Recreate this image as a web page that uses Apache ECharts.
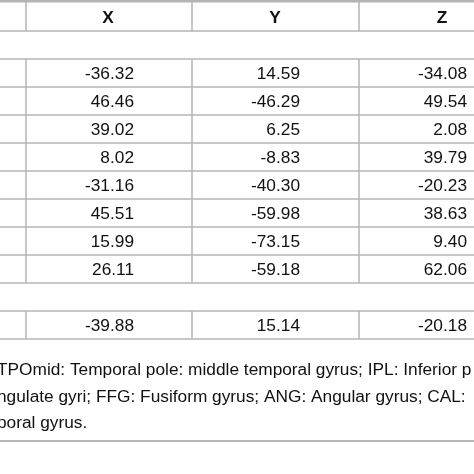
<!DOCTYPE html><html><head><meta charset="utf-8">
<script src="https://cdn.jsdelivr.net/npm/echarts@6/dist/echarts.min.js"></script>
<style>html,body{margin:0;padding:0;background:#fff}#c{width:474px;height:474px}</style></head><body><div id="c"></div>
<script>
const headers = ['X','Y','Z'];
const xVals = ['-36.32','46.46','39.02','8.02','-31.16','45.51','15.99','26.11',null,'-39.88'];
const yVals = ['14.59','-46.29','6.25','-8.83','-40.30','-59.98','-73.15','-59.18',null,'15.14'];
const zVals = ['-34.08','49.54','2.08','39.79','-20.23','38.63','9.40','62.06',null,'-20.18'];
const footnote = ['TPOmid: Temporal pole: middle temporal gyrus; IPL: Inferior p','ngulate gyri; FFG: Fusiform gyrus; ANG: Angular gyrus; CAL:','poral gyrus.'];

const font = '17.3px "Liberation Sans", Arial, sans-serif';
const lineC = '#b4b4b4';
const els = [];
const hLines = [31,59,87,115,143,171,199,227,255,283,311,339];
hLines.forEach(y => els.push({type:'line',shape:{x1:0,y1:y,x2:474,y2:y},style:{stroke:lineC,lineWidth:1.5}}));
els.push({type:'line',shape:{x1:0,y1:1,x2:474,y2:1},style:{stroke:lineC,lineWidth:3}});
els.push({type:'line',shape:{x1:0,y1:441,x2:474,y2:441},style:{stroke:lineC,lineWidth:2}});
const vSegs = [[0,31],[59,283],[311,339]];
[26,192,359].forEach(x => vSegs.forEach(s => els.push({type:'line',shape:{x1:x,y1:s[0],x2:x,y2:s[1]},style:{stroke:lineC,lineWidth:1.5}})));
const hc = [108,275,442];
headers.forEach((h,i)=>els.push({type:'text',x:hc[i],y:18,style:{text:h,font:'bold '+font,fill:'#111',align:'center',verticalAlign:'middle'}}));
const rowY = [73,101,129,157,185,213,241,269,297,325];
const rights = [134,300,467];
[xVals,yVals,zVals].forEach((col,ci)=>col.forEach((v,ri)=>{ if(v!==null) els.push({type:'text',x:rights[ci],y:rowY[ri]+1,style:{text:v,font:font,fill:'#111',align:'right',verticalAlign:'middle'}}); }));
const fy = [370,397,423];
footnote.forEach((t,i)=>els.push({type:'text',x:-3,y:fy[i],style:{text:t,font:font,fill:'#111',align:'left',verticalAlign:'middle'}}));
const chart = echarts.init(document.getElementById('c'));
chart.setOption({backgroundColor:'#fff',graphic:{elements:els}});
</script></body></html>
